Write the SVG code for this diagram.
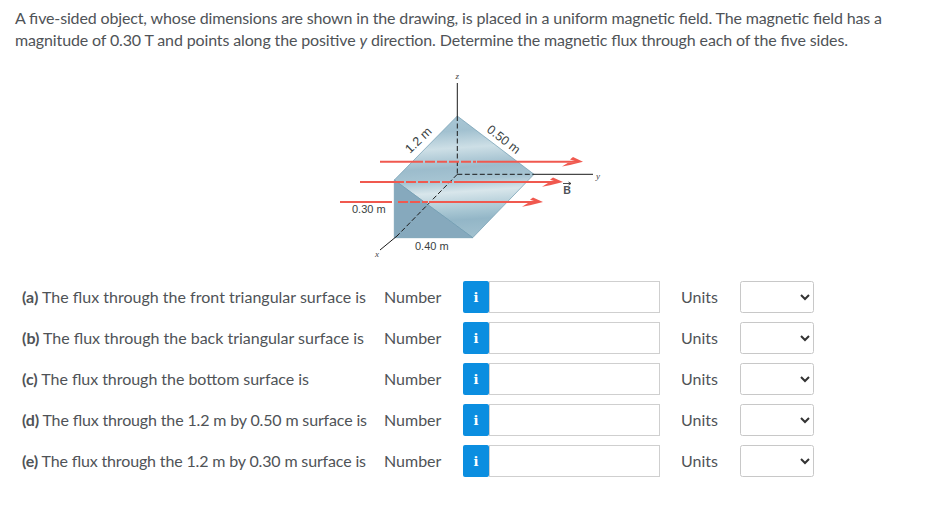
<svg xmlns="http://www.w3.org/2000/svg" width="930" height="507" viewBox="0 0 930 507">
<style>
text{font-family:Lato,"Open Sans","Liberation Sans",sans-serif;fill:#4f5357}
.t{font-size:16px}
.l{font-size:16px}
.b{font-weight:700}
.m{font-family:"Liberation Sans",Arial,sans-serif;font-size:11px;fill:#3a3f42}
.mr{font-family:"Liberation Sans",Arial,sans-serif;font-size:12.500px;fill:#3a3f42}
.ax{font-family:"Liberation Serif",serif;font-style:italic;font-size:9px;fill:#444}
.axis{stroke:#1a1a1a;stroke-width:1;fill:none}
.dash{stroke:#1a1a1a;stroke-width:1;stroke-dasharray:5 2.5;fill:none}
.red{stroke:#f0594f;stroke-width:2;fill:none}
.rd{stroke:#f0594f;stroke-width:2;fill:none;stroke-dasharray:10 2}
.rh{fill:#f0594f}
.inp{fill:#fff;stroke:#cfcfcf;stroke-width:1}
.sel{fill:#fff;stroke:#c8c8c8;stroke-width:1}
.btn{fill:#0b8ee0}
.i{font-family:"DejaVu Serif",serif;font-size:13px;font-weight:700;fill:#fff;text-anchor:middle}
.chev{stroke:#333;stroke-width:2;fill:none}
</style>
<defs>
<linearGradient id="g" gradientUnits="userSpaceOnUse" x1="457" y1="116" x2="465" y2="238">
<stop offset="0" stop-color="#a8c6d4"/><stop offset="0.12" stop-color="#a2c1d0"/><stop offset="0.26" stop-color="#cddfe6"/><stop offset="0.42" stop-color="#9cbccc"/><stop offset="0.52" stop-color="#a6c4d2"/><stop offset="0.62" stop-color="#d8e6eb"/><stop offset="0.78" stop-color="#a6c5d2"/><stop offset="0.85" stop-color="#93b6c7"/><stop offset="1" stop-color="#a2c1cf"/>
</linearGradient>
</defs>
<rect width="930" height="507" fill="#fff"/>
<g id="question">
<text class="t" x="15" y="24" textLength="867" lengthAdjust="spacing">A five-sided object, whose dimensions are shown in the drawing, is placed in a uniform magnetic field. The magnetic field has a</text>
<text class="t" x="15" y="46" textLength="833" lengthAdjust="spacing">magnitude of 0.30 T and points along the positive <tspan font-style="italic">y</tspan> direction. Determine the magnetic flux through each of the five sides.</text>
</g>
<g id="object">
<path d="M457.3 116L534 174.3L472.7 237.7L394.3 180Z" fill="url(#g)" stroke="#6f9bb0" stroke-width="0.7"/>
<path d="M394.3 180L472.7 237.7H394.3Z" fill="#86a9bd" stroke="#6f9bb0" stroke-width="0.7"/>
</g>
<g id="connectors">
<path class="axis" d="M457.3 83V116"/>
<path class="dash" d="M457.3 116V174.3"/>
<path class="dash" d="M457.3 174.3H534"/>
<path class="axis" d="M534 174.3H593"/>
<path class="dash" d="M457.3 174.3L397 236"/>
<path class="axis" d="M397 236L380 250"/>
<path class="red" d="M380 161.700H413"/>
<path class="rd" d="M413 161.700H476"/>
<path class="red" d="M477 161.700H578"/>
<path class="rh" d="M573 157L583 161.800L570 165L562 166.500L568 162.700L578 162L570 159.500Z"/>
<path class="red" d="M360 182H394"/>
<path class="rd" d="M394 182H456"/>
<path class="red" d="M456 182H558"/>
<path class="rh" d="M553 177.500L563 182.100L550 185.300L542 186.800L548 183L558 182.300L550 179.800Z"/>
<path class="red" d="M340 202H392"/>
<path class="rd" d="M398 202H428"/>
<path class="red" d="M429 202H538"/>
<path class="rh" d="M533 197.500L543 202.100L530 205.300L522 206.800L528 203L538 202.300L530 199.800Z"/>
</g>
<g id="labels">
<text class="ax" x="457.3" y="79" text-anchor="middle">z</text>
<text class="ax" x="596" y="179">y</text>
<text class="ax" x="375" y="257">x</text>
<text class="mr" transform="translate(410 154) rotate(-44)">1.2 m</text>
<text class="mr" transform="translate(486 131) rotate(38)">0.50 m</text>
<text class="m" x="352" y="213">0.30 m</text>
<text class="m" x="415" y="250">0.40 m</text>
<text x="563" y="193.500" font-family="Liberation Serif,serif" font-size="12" font-weight="700" fill="#222">B</text>
<path d="M563 183.500H570.500M568.500 182L571 183.500L568.500 185" stroke="#222" stroke-width="0.800" fill="none"/>
</g>
<g id="row-a">
<text class="l" x="22" y="303" textLength="344" lengthAdjust="spacing"><tspan class="b">(a)</tspan> The flux through the front triangular surface is</text>
<text class="l" x="384" y="303">Number</text>
<rect class="btn" x="463" y="281" width="26" height="32" rx="2"/><text class="i" x="476" y="302">i</text>
<rect class="inp" x="489.500" y="281.500" width="170" height="31"/>
<text class="l" x="681" y="303">Units</text>
<rect class="sel" x="740.500" y="281.500" width="73" height="31" rx="2"/><path class="chev" d="M801 295L805 299L809 295"/>
</g>
<g id="row-b">
<text class="l" x="22" y="344" textLength="342" lengthAdjust="spacing"><tspan class="b">(b)</tspan> The flux through the back triangular surface is</text>
<text class="l" x="384" y="344">Number</text>
<rect class="btn" x="463" y="322" width="26" height="32" rx="2"/><text class="i" x="476" y="343">i</text>
<rect class="inp" x="489.500" y="322.500" width="170" height="31"/>
<text class="l" x="681" y="344">Units</text>
<rect class="sel" x="740.500" y="322.500" width="73" height="31" rx="2"/><path class="chev" d="M801 336L805 340L809 336"/>
</g>
<g id="row-c">
<text class="l" x="22" y="385" textLength="287" lengthAdjust="spacing"><tspan class="b">(c)</tspan> The flux through the bottom surface is</text>
<text class="l" x="384" y="385">Number</text>
<rect class="btn" x="463" y="363" width="26" height="32" rx="2"/><text class="i" x="476" y="384">i</text>
<rect class="inp" x="489.500" y="363.500" width="170" height="31"/>
<text class="l" x="681" y="385">Units</text>
<rect class="sel" x="740.500" y="363.500" width="73" height="31" rx="2"/><path class="chev" d="M801 377L805 381L809 377"/>
</g>
<g id="row-d">
<text class="l" x="22" y="426" textLength="345" lengthAdjust="spacing"><tspan class="b">(d)</tspan> The flux through the 1.2 m by 0.50 m surface is</text>
<text class="l" x="384" y="426">Number</text>
<rect class="btn" x="463" y="404" width="26" height="32" rx="2"/><text class="i" x="476" y="425">i</text>
<rect class="inp" x="489.500" y="404.500" width="170" height="31"/>
<text class="l" x="681" y="426">Units</text>
<rect class="sel" x="740.500" y="404.500" width="73" height="31" rx="2"/><path class="chev" d="M801 418L805 422L809 418"/>
</g>
<g id="row-e">
<text class="l" x="22" y="467" textLength="344" lengthAdjust="spacing"><tspan class="b">(e)</tspan> The flux through the 1.2 m by 0.30 m surface is</text>
<text class="l" x="384" y="467">Number</text>
<rect class="btn" x="463" y="445" width="26" height="32" rx="2"/><text class="i" x="476" y="466">i</text>
<rect class="inp" x="489.500" y="445.500" width="170" height="31"/>
<text class="l" x="681" y="467">Units</text>
<rect class="sel" x="740.500" y="445.500" width="73" height="31" rx="2"/><path class="chev" d="M801 459L805 463L809 459"/>
</g>
</svg>
